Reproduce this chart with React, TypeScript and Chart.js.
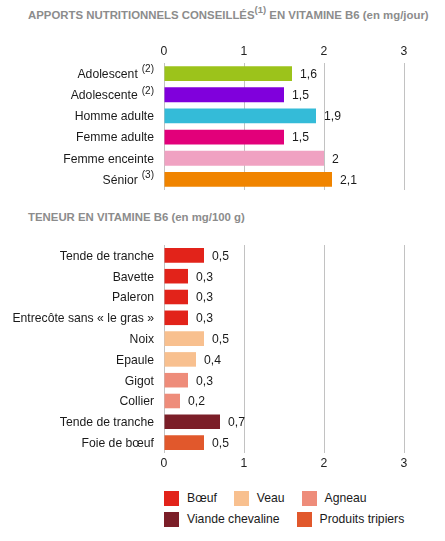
import React, { useEffect, useRef } from "react";
import { Chart, registerables } from "chart.js";

Chart.register(...registerables);

const FONT = "'Liberation Sans', Arial, sans-serif";

const axisTicks = [0, 1, 2, 3];

const groupLabels = ["Adolescent", "Adolescente", "Homme adulte", "Femme adulte", "Femme enceinte", "Sénior"];
const groupNotes = ["(2)", "(2)", "", "", "", "(3)"];
const groupValues = [1.6, 1.5, 1.9, 1.5, 2, 2.1];
const groupColors = ["#9cc31b", "#8000dc", "#34bbd8", "#e2007a", "#f0a2c2", "#f08400"];

const cutLabels = [
  "Tende de tranche",
  "Bavette",
  "Paleron",
  "Entrecôte sans « le gras »",
  "Noix",
  "Epaule",
  "Gigot",
  "Collier",
  "Tende de tranche",
  "Foie de bœuf",
];
const cutValues = [0.5, 0.3, 0.3, 0.3, 0.5, 0.4, 0.3, 0.2, 0.7, 0.5];
const cutMeatIndex = [0, 0, 0, 0, 1, 1, 2, 2, 3, 4];

const meatNames = ["Bœuf", "Veau", "Agneau", "Viande chevaline", "Produits tripiers"];
const meatColors = ["#e2231a", "#f8c08f", "#ee8c7a", "#7b1e28", "#e1582c"];

const fmt = (v: number) => String(v).replace(".", ",");

const labelPlugin = {
  id: "barLabels",
  afterDraw(chart: any, _args: any, opts: any) {
    const { ctx, chartArea } = chart;
    const yScale = chart.scales.y;
    const names: string[] = opts.names || [];
    const notes: string[] = opts.notes || [];
    ctx.save();
    ctx.fillStyle = "#1a1a1a";
    ctx.textBaseline = "middle";
    ctx.textAlign = "right";
    for (let i = 0; i < names.length; i++) {
      const py = yScale.getPixelForValue(i);
      let right = chartArea.left - 10;
      const note = notes[i];
      if (note) {
        ctx.font = `10px ${FONT}`;
        ctx.fillText(note, right, py - 4);
        right -= ctx.measureText(note).width + 4;
      }
      ctx.font = `12.2px ${FONT}`;
      ctx.fillText(names[i], right, py + 1);
    }
    const meta = chart.getDatasetMeta(0);
    const vals = chart.data.datasets[0].data as number[];
    ctx.textAlign = "left";
    ctx.font = `12.2px ${FONT}`;
    meta.data.forEach((bar: any, i: number) => {
      ctx.fillText(fmt(vals[i]), bar.x + 8, bar.y + 1);
    });
    ctx.restore();
  },
};

function makeConfig(
  labels: string[],
  notes: string[],
  values: number[],
  colors: string[],
  position: "top" | "bottom",
  axisHeight: number,
  tickPadding: number,
  padTop: number
): any {
  return {
    type: "bar",
    data: {
      labels,
      datasets: [
        {
          data: values,
          backgroundColor: colors,
          barPercentage: 0.7,
          categoryPercentage: 1,
          borderWidth: 0,
        },
      ],
    },
    options: {
      indexAxis: "y",
      responsive: true,
      maintainAspectRatio: false,
      animation: false,
      layout: { padding: { left: 164, right: 41, top: padTop, bottom: 0 } },
      scales: {
        x: {
          position,
          min: 0,
          max: 3,
          afterBuildTicks: (s: any) => {
            s.ticks = axisTicks.map((v) => ({ value: v }));
          },
          afterFit: (s: any) => {
            s.height = axisHeight;
          },
          ticks: {
            padding: tickPadding,
            color: "#222",
            font: { family: FONT, size: 12.2 },
            callback: (v: any) => String(v),
            maxRotation: 0,
          },
          grid: { color: "#c2c2c2", drawTicks: false, lineWidth: 1 },
          border: { display: false },
        },
        y: { display: false },
      },
      plugins: {
        legend: { display: false },
        tooltip: { enabled: false },
        barLabels: { names: labels, notes },
      },
    },
    plugins: [labelPlugin],
  };
}

export default function App() {
  const ref1 = useRef<HTMLCanvasElement>(null);
  const ref2 = useRef<HTMLCanvasElement>(null);

  useEffect(() => {
    const c1 = new Chart(
      ref1.current!,
      makeConfig(groupLabels, groupNotes, groupValues, groupColors, "top", 33, 4, 0)
    );
    const c2 = new Chart(
      ref2.current!,
      makeConfig(
        cutLabels,
        cutLabels.map(() => ""),
        cutValues,
        cutMeatIndex.map((m) => meatColors[m]),
        "bottom",
        20,
        3,
        15
      )
    );
    return () => {
      c1.destroy();
      c2.destroy();
    };
  }, []);

  const titleStyle: React.CSSProperties = {
    position: "absolute",
    left: 28,
    fontSize: 11.4,
    fontWeight: "bold",
    color: "#8c8c8c",
    whiteSpace: "nowrap",
    lineHeight: "14px",
  };
  const supStyle: React.CSSProperties = { fontSize: 9.5, verticalAlign: "top", lineHeight: "9px", position: "relative", top: -3 };

  return (
    <div
      style={{
        position: "absolute",
        left: 0,
        top: 0,
        width: 445,
        height: 541,
        background: "#fff",
        fontFamily: FONT,
        overflow: "hidden",
      }}
    >
      <div style={{ ...titleStyle, top: 8 }}>
        APPORTS NUTRITIONNELS CONSEILLÉS<span style={supStyle}>(1)</span> EN VITAMINE B6 (en mg/jour)
      </div>
      <div style={{ position: "absolute", left: 0, top: 30, width: 445, height: 160 }}>
        <canvas ref={ref1} />
      </div>
      <div style={{ ...titleStyle, top: 210 }}>TENEUR EN VITAMINE B6 (en mg/100 g)</div>
      <div style={{ position: "absolute", left: 0, top: 230, width: 445, height: 243 }}>
        <canvas ref={ref2} />
      </div>
      <div
        style={{
          position: "absolute",
          left: 164,
          top: 491,
          width: 265,
          display: "flex",
          flexWrap: "wrap",
          columnGap: 17,
          rowGap: 6,
          fontSize: 12.2,
          color: "#1a1a1a",
        }}
      >
        {meatNames.map((name, i) => (
          <div key={name} style={{ display: "flex", alignItems: "center", height: 15 }}>
            <span style={{ display: "inline-block", width: 15, height: 15, background: meatColors[i], marginRight: 8 }} />
            <span style={{ lineHeight: "15px" }}>{name}</span>
          </div>
        ))}
      </div>
    </div>
  );
}
